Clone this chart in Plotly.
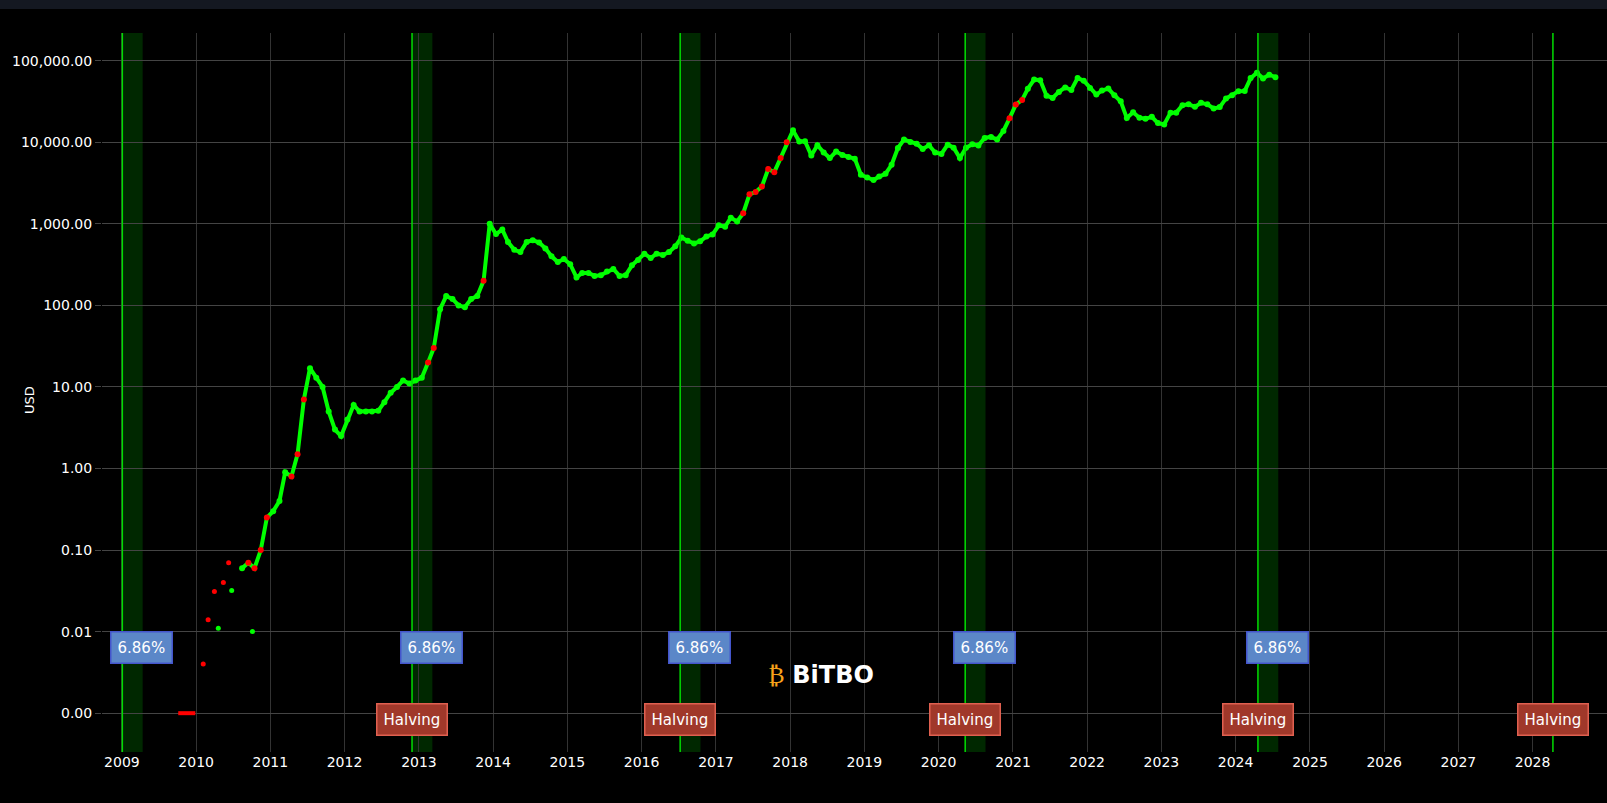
import plotly.graph_objects as go
import pandas as pd

months = pd.date_range("2010-07-15", "2024-07-15", freq="MS") + pd.Timedelta(days=14)
prices = [0.06,0.07,0.06,0.1,0.25,0.3,
 0.4,0.9,0.8,1.5,7,17,13,10,5,3,2.5,4,
 6,5,5,5,5.1,6.5,8.5,10,12,11,12,13,
 20,30,90,130,120,100,95,120,130,200,1000,750,
 850,600,480,450,600,630,590,500,400,340,370,320,
 220,250,250,230,235,260,280,230,235,310,360,430,
 380,430,415,450,530,680,620,575,610,700,740,960,
 920,1190,1070,1350,2300,2450,2870,4700,4300,6400,10000,14000,
 10200,10300,6900,9200,7500,6400,7700,7000,6600,6300,4000,3700,
 3450,3800,4100,5300,8500,10800,10100,9600,8300,9200,7500,7200,
 9350,8600,6400,8600,9450,9150,11300,11650,10800,13800,19700,29000,
 33100,45200,58800,57700,37300,35000,41500,47100,43800,61300,57000,46300,
 38500,43200,45500,37700,31800,19800,23300,20000,19400,20500,17200,16500,
 23100,23100,28500,29200,27200,30500,29200,26000,27000,34500,37700,42300,
 42600,61200,71300,60600,67500,62700,66000]
months = list(months[:len(prices)])
red_periods = [("2010-09-01","2010-12-31"),("2011-04-01","2011-06-20"),("2013-02-01","2013-04-10"),
               ("2013-10-20","2013-11-30"),("2017-05-01","2017-12-20"),("2020-12-01","2021-02-28")]
def is_red(d):
    return any(pd.Timestamp(a) <= d <= pd.Timestamp(b) for a, b in red_periods)
colors = ["#ff0000" if is_red(d) else "#00ff00" for d in months]

early_dates = ["2010-02-05","2010-03-01","2010-04-01","2010-04-20","2010-05-15","2010-06-10","2010-06-25","2010-10-05"]
early_prices = [0.004,0.014,0.031,0.011,0.04,0.07,0.032,0.01]
early_colors = ["#ff0000","#ff0000","#ff0000","#00ff00","#ff0000","#ff0000","#00ff00","#00ff00"]
flat_dates = pd.date_range("2009-10-05","2009-12-31",freq="4D")
flat_prices = [0.001]*len(flat_dates)

halvings = ["2009-01-03","2012-11-28","2016-07-09","2020-05-11","2024-04-20","2028-04-10"]
band_days = 100
rate_label = "6.86%"

fig = go.Figure()
fig.add_trace(go.Scatter(x=flat_dates, y=flat_prices, mode="lines", line=dict(color="#ff0000", width=4), hoverinfo="skip"))
fig.add_trace(go.Scatter(x=early_dates, y=early_prices, mode="markers", marker=dict(color=early_colors, size=5)))
fig.add_trace(go.Scatter(x=months, y=prices, mode="lines", line=dict(color="#00ff00", width=4)))
fig.add_trace(go.Scatter(x=months, y=prices, mode="markers", marker=dict(color=colors, size=6)))

shapes = []
annotations = []
for i, h in enumerate(halvings):
    hd = pd.Timestamp(h)
    if i < len(halvings) - 1:
        shapes.append(dict(type="rect", xref="x", yref="paper", x0=hd, x1=hd + pd.Timedelta(days=band_days),
                           y0=0, y1=1, fillcolor="#002800", line_width=0, layer="below"))
        annotations.append(dict(x=hd, y=-2.2, xref="x", yref="y", text=rate_label, showarrow=False,
                                xanchor="left", xshift=-12, bgcolor="#5b87c8", bordercolor="#4455cc", borderwidth=1.5,
                                borderpad=6, font=dict(color="white", size=15, family="DejaVu Sans")))
    shapes.append(dict(type="line", xref="x", yref="paper", x0=hd, x1=hd, y0=0, y1=1,
                       line=dict(color="#00dd00", width=1.5)))
    if i > 0:
        annotations.append(dict(x=hd, y=-3.08, xref="x", yref="y", text="Halving", showarrow=False,
                                bgcolor="#a0382a", bordercolor="#e06050", borderwidth=1.5, borderpad=6,
                                font=dict(color="white", size=15, family="DejaVu Sans")))
shapes.append(dict(type="rect", xref="paper", yref="paper", x0=-0.07, x1=1.01, y0=1.0334, y1=1.06,
                   fillcolor="#141821", line_width=0))
annotations.append(dict(x=0.478, y=0.085, xref="paper", yref="paper", showarrow=False,
                        text="<span style='color:#f7a21a'>₿</span> <b>BiTBO</b>",
                        font=dict(color="white", size=24, family="DejaVu Sans")))
annotations.append(dict(x=-0.042, y=0.49, xref="paper", yref="paper", showarrow=False, text="USD",
                        textangle=-90, xanchor="right", font=dict(color="white", size=13, family="DejaVu Sans")))

years = list(range(2009, 2029))
fig.update_layout(
    width=1607, height=803, showlegend=False,
    paper_bgcolor="#000000", plot_bgcolor="#000000",
    margin=dict(l=102, r=0, t=33, b=51),
    font=dict(family="DejaVu Sans", color="white", size=14),
    shapes=shapes, annotations=annotations,
    xaxis=dict(range=["2008-09-25", "2029-01-01"], tickvals=[f"{y}-01-01" for y in years],
               ticktext=[str(y) for y in years], gridcolor="#333333", showline=False, zeroline=False,
               ticks="", tickfont=dict(size=14)),
    yaxis=dict(type="log", range=[-3.476, 5.34], tickvals=[0.001,0.01,0.1,1,10,100,1000,10000,100000],
               ticktext=["0.00","0.01","0.10","1.00","10.00","100.00","1,000.00","10,000.00","100,000.00"],
               gridcolor="#444444", zeroline=False, ticks="outside", ticklen=6, tickcolor="#444444",
               tickfont=dict(size=14)),
)
fig.write_html("out.html", config={"displayModeBar": False},
               post_script="document.body.style.margin='0';document.body.style.background='#141821';document.body.style.overflow='hidden';")
